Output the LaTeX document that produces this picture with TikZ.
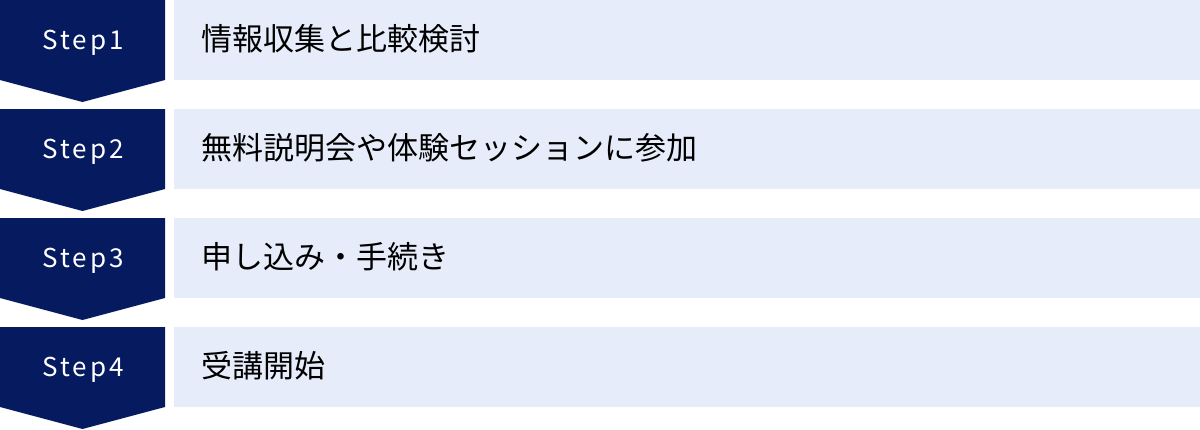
\documentclass[tikz,border=0pt]{standalone}
\usepackage{fontspec}
\setmainfont{Noto Sans CJK JP}
\newfontfamily\stepfont[LetterSpace=12]{Noto Sans CJK JP}
\definecolor{navy}{HTML}{061A5F}
\definecolor{pale}{HTML}{E6ECF9}
\tikzset{
  stepshape/.style={fill=navy},
  steplabel/.style={text=white, font=\stepfont\fontsize{26}{30}\selectfont, inner sep=0pt, anchor=base},
  barbox/.style={fill=pale, draw=none, anchor=north west, minimum width=1026pt, minimum height=80pt, inner sep=0pt},
  bartext/.style={text=black, font=\fontsize{31}{36}\selectfont, anchor=base west, inner sep=0pt}
}
\begin{document}
\begin{tikzpicture}[x=1pt,y=-1pt]
\useasboundingbox (0,0) rectangle (1200,429);
\foreach \i/\txt in {1/情報収集と比較検討, 2/無料説明会や体験セッションに参加, 3/申し込み・手続き, 4/受講開始}{
  \pgfmathsetmacro{\t}{109*(\i-1)}
  \fill[stepshape] (0,\t) -- (165,\t) -- (165,\t+80) -- (82.5,\t+102) -- (0,\t+80) -- cycle;
  \node[steplabel] (s\i) at (83,\t+49.5) {Step\i};
  \node[barbox] (b\i) at (174,\t) {};
  \node[bartext] (t\i) at (201,\t+50) {\txt};
}
\end{tikzpicture}
\end{document}
